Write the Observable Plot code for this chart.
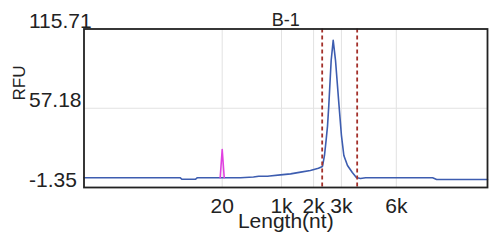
<!DOCTYPE html>
<html>
<head>
<meta charset="utf-8">
<script src="https://cdn.jsdelivr.net/npm/d3@7"></script>
<script src="https://cdn.jsdelivr.net/npm/@observablehq/plot@0.6"></script>
<style>
  html, body { margin: 0; padding: 0; background: #fff; }
  #chart svg { display: block; }
</style>
</head>
<body>
<div id="chart"></div>
<script>
// Migration position (arbitrary time units) and RFU of the electropherogram trace
const traceTime = [0, 23.8, 24.3, 27.6, 28.1, 33.7, 38.8, 42.0, 43.3, 45.5, 46.0, 48.7, 51.2, 53.7, 56.1, 58.1, 59.1,
  59.6, 60.0, 60.35, 60.67, 61.26, 61.76, 62.33, 63.2, 63.8, 64.4, 65.3, 66.5, 67.5, 68.5, 69.8, 86.4, 87.4, 100];
const traceRFU = [5.9, 5.9, 4.7, 4.7, 5.9, 5.9, 5.9, 6.4, 7.0, 7.0, 7.2, 8.0, 8.7, 10.0, 11.2, 12.8, 14.2,
  22.3, 33.4, 44.0, 59.3, 92.6, 107.35, 92.6, 59.3, 37.1, 22.3, 14.9, 9.7, 6.0, 5.3, 5.8, 5.8, 4.6, 4.6];
// Lower marker peak (20 nt)
const markerTime = [33.75, 34.25, 34.75];
const markerRFU = [5.9, 26.7, 5.9];
// Size ladder tick positions and labels
const xTickTime = [34.25, 48.95, 56.9, 63.8, 77.4];
const xTickLabels = ["20", "1k", "2k", "3k", "6k"];
// Y tick values / labels
const yTickValues = [115.71, 57.18, -1.35];
const yTickLabels = ["115.71", "57.18", "-1.35"];
// Region boundaries (dashed)
const regionBounds = [59.03, 67.7];
const title = "B-1";

const trace = traceTime.map((t, i) => ({t, v: traceRFU[i]}));
const marker = markerTime.map((t, i) => ({t, v: markerRFU[i]}));
const xTicks = xTickTime.map((t, i) => ({t, label: xTickLabels[i]}));
const yTicks = yTickValues.map((v, i) => ({v, label: yTickLabels[i]}));

const font = "'Liberation Sans', Arial, sans-serif";

const chart = Plot.plot({
  width: 498,
  height: 242,
  marginLeft: 83.5,
  marginRight: 11,
  marginTop: 28.5,
  marginBottom: 55,
  style: {fontFamily: font, background: "#fff", color: "#222"},
  x: {domain: [0, 100], axis: null},
  y: {domain: [-1.35, 115.71], axis: null},
  marks: [
    Plot.ruleX(xTicks, {x: "t", stroke: "#e2e2e2", strokeWidth: 1}),
    Plot.ruleY([yTickValues[1]], {stroke: "#e2e2e2", strokeWidth: 1}),
    Plot.line(trace, {x: "t", y: "v", stroke: "#3d5db0", strokeWidth: 1.6, curve: "linear"}),
    Plot.line(marker, {x: "t", y: "v", stroke: "#e040e0", strokeWidth: 1.6}),
    Plot.ruleX(regionBounds, {stroke: "#a3302a", strokeWidth: 1.8, strokeDasharray: "4,3"}),
    Plot.frame({stroke: "#222", strokeWidth: 1.8}),
    Plot.text(xTicks, {x: "t", text: "label", frameAnchor: "bottom", lineAnchor: "bottom", dy: 25.7, fontSize: 21, fill: "#222"}),
    Plot.text(yTicks, {y: "v", text: "label", frameAnchor: "left", textAnchor: "start", lineAnchor: "bottom", dx: -55, dy: -1, fontSize: 21, fill: "#222"}),
    Plot.text([title], {frameAnchor: "top", lineAnchor: "bottom", dy: -3, fontSize: 18, fill: "#222"}),
    Plot.text(["Length(nt)"], {frameAnchor: "bottom", lineAnchor: "bottom", dy: 40, fontSize: 21, fill: "#222"}),
    Plot.text(["RFU"], {frameAnchor: "top-left", dx: -64.5, dy: 54, rotate: -90, textAnchor: "middle", lineAnchor: "middle", fontSize: 17, fill: "#222"})
  ]
});
document.getElementById("chart").append(chart);
</script>
</body>
</html>
